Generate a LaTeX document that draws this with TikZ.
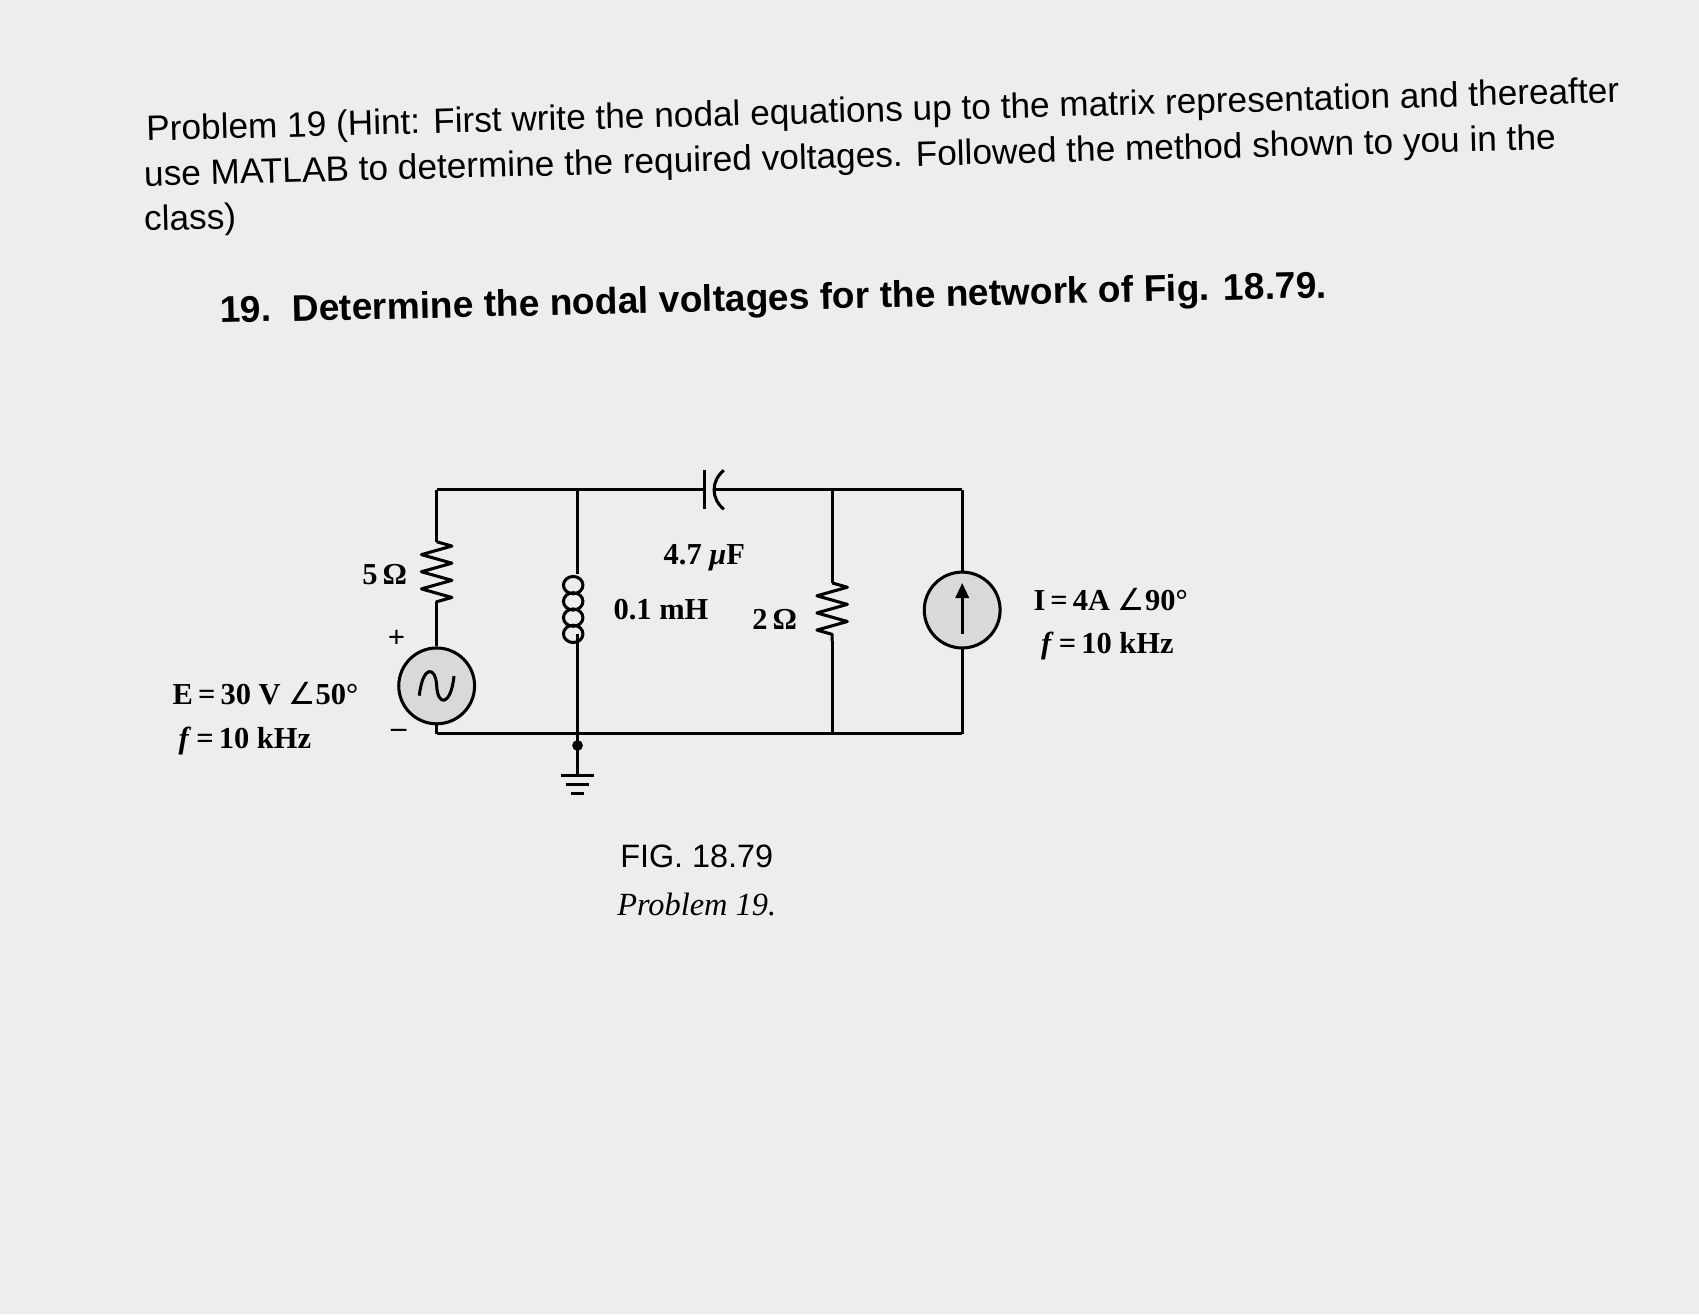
\documentclass[tikz,border=0pt]{standalone}
\usepackage{fontspec}
\setmainfont{Liberation Serif}
\setsansfont{Liberation Sans}
\newfontfamily\symf{DejaVu Sans}
\usetikzlibrary{decorations.pathmorphing,arrows.meta}
\begin{document}
\begin{tikzpicture}[x=0.02cm,y=-0.02cm,
  wire/.style={line width=1.6pt,line join=round},
  res/.style={wire,decorate,decoration={zigzag,segment length=9,amplitude=8}},
  hdr/.style={font=\sffamily\fontsize{18.5}{20}\selectfont,anchor=base west,inner sep=0},
  lbl/.style={font=\fontsize{16}{18}\selectfont\bfseries,inner sep=1pt}]
\fill[gray!14] (0,0) rectangle (1568,1213);
\useasboundingbox (0,0) rectangle (1568,1213);
% header
\node[hdr,rotate=1.5] (h1) at (135,130) {Problem 19 (Hint: First write the nodal equations up to the matrix representation and thereafter};
\node[hdr,rotate=1.5] (h2) at (133,172) {use MATLAB to determine the required voltages. Followed the method shown to you in the};
\node[hdr,rotate=1.5] (h3) at (133,213) {class)};
\node[hdr,rotate=1.3,font=\sffamily\bfseries\fontsize{19.5}{21}\selectfont] (h4) at (203,298) {19.\ \ Determine the nodal voltages for the network of Fig. 18.79.};
% coordinates
\coordinate (tl) at (403,452); \coordinate (tr) at (888,452);
\coordinate (bl) at (403,677); \coordinate (br) at (888,677);
\coordinate (tL) at (533,452); \coordinate (bL) at (533,677);
\coordinate (tR) at (768,452); \coordinate (bR) at (768,677);
\coordinate (c1) at (650,452); \coordinate (c2) at (660,452);
% top wire with capacitor
\draw[wire] (tl) -- (c1) (c2) -- (tr);
\draw[wire] (c1)++(0,-18) -- ++(0,36);
\draw[wire] (668,434) .. controls (656,444) and (656,460) .. (668,470);
\draw[wire] (bl) -- (br);
% left branch
\node[circle,draw,line width=1.6pt,minimum size=70*0.02cm,fill=gray!30] (E) at (403,633) {};
\draw[wire] (387,642) .. controls (390,614) and (402,614) .. (403,633) .. controls (404,652) and (416,652) .. (419,624);
\draw[wire] (tl) -- (403,500);
\draw[res] (403,500) -- (403,556);
\draw[wire] (403,556) -- (E.north);
\draw[wire] (E.south) -- (bl);
% inductor branch
\draw[wire] (tL) -- (533,530);
\foreach \k in {0,1,2,3} \draw[wire] (529,{540+15*\k}) ellipse[x radius=9, y radius=8];
\draw[wire] (533,585) -- (bL);
\draw[wire] (bL) -- (533,716);
\node[circle,fill,inner sep=2pt] (gd) at (533,688) {};
\draw[wire] (518,716) -- (548,716) (522,724) -- (544,724) (527,732) -- (539,732);
% 2 ohm branch
\draw[wire] (tR) -- (768,538);
\draw[res] (768,538) -- (768,592);
\draw[wire] (768,592) -- (bR);
% current source
\node[circle,draw,line width=1.6pt,minimum size=70*0.02cm,fill=gray!30] (I) at (888,563) {};
\draw[wire] (tr) -- (I.north);
\draw[wire] (I.south) -- (br);
\draw[wire,-{Triangle[length=8pt,width=7pt]}] (888,585) -- (888,538);
% labels
\node[lbl] (l5) at (355,530) {5\,Ω};
\node[lbl] (lp) at (366,590) {+};
\node[lbl] (lE) at (245,640) {E\,=\,30 V {\symf\mdseries ∠}50°};
\node[lbl] (lf) at (226,684) {\textit{f}\,=\,10 kHz};
\node[lbl] (lm) at (368,677) {–};
\node[lbl] (lc) at (650,515) {4.7 \textit{μ}F};
\node[lbl] (ll) at (610,563) {0.1 mH};
\node[lbl] (l2) at (715,572) {2\,Ω};
\node[lbl] (lI) at (1025,553) {I\,=\,4A {\symf\mdseries ∠}90°};
\node[lbl] (lf2) at (1022,596) {\textit{f}\,=\,10 kHz};
\node[font=\sffamily\fontsize{17}{19}\selectfont] (fig) at (643,790) {FIG. 18.79};
\node[font=\fontsize{17}{19}\selectfont\itshape] (pr) at (643,835) {Problem 19.};
\end{tikzpicture}
\end{document}
